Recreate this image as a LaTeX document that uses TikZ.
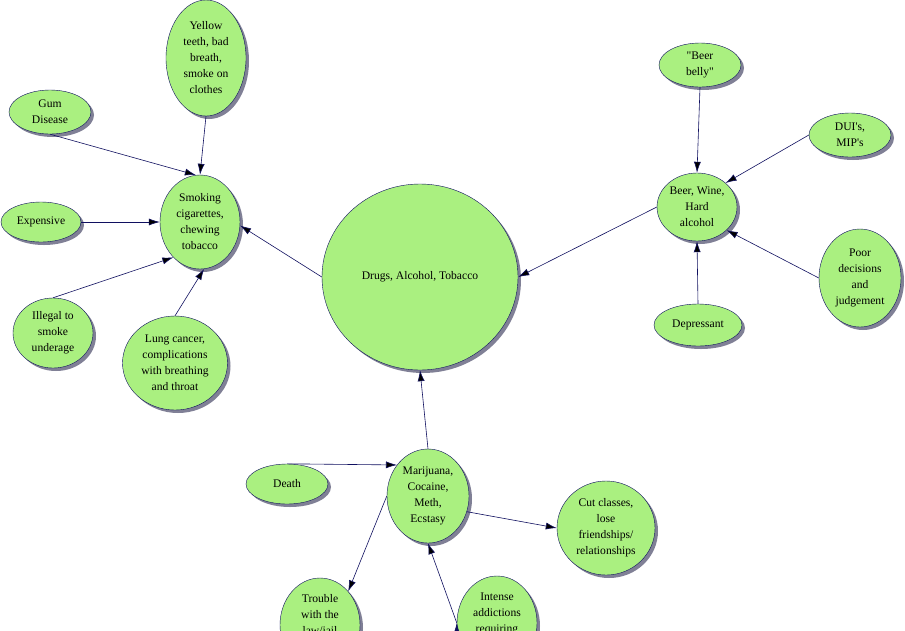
\documentclass[tikz,border=0pt]{standalone}
\usepackage{fontspec}
\setmainfont{Liberation Serif}
\usetikzlibrary{positioning}
\usetikzlibrary{shapes,shapes.geometric,arrows.meta,shadows}

\definecolor{leaf}{RGB}{170,240,128}
\definecolor{ink}{RGB}{16,16,96}
\definecolor{shade}{RGB}{128,128,150}

\tikzset{
  bubble/.style={ellipse, draw=ink, fill=leaf, inner sep=0pt, align=center,
    font=\fontsize{11.6}{16}\selectfont,
    drop shadow={shadow xshift=3pt, shadow yshift=-3pt, fill=shade, opacity=1}},
  link/.style={-{Latex[length=11pt,width=7pt]}, draw=ink, line width=0.6pt}
}

\begin{document}
\begin{tikzpicture}[node distance=2cm,on grid]
  \clip (0,0) rectangle (905pt,-630pt);
  \fill[white] (0,0) rectangle (905pt,-630pt);

  \node[bubble, minimum width=196pt, minimum height=186pt] (drugs) at (420pt,-277pt) {Drugs, Alcohol, Tobacco};

  % tobacco
  \node[bubble, minimum width=80pt, minimum height=94pt] (smoke) [above left=55pt and 220pt of drugs] {Smoking\\cigarettes,\\chewing\\tobacco};
  \node[bubble, minimum width=80pt, minimum height=116pt] (teeth) [above right=164pt and 6pt of smoke] {Yellow\\teeth, bad\\breath,\\smoke on\\clothes};
  \node[bubble, minimum width=82pt, minimum height=44pt] (gum) [above left=110pt and 150pt of smoke] {Gum\\Disease};
  \node[bubble, minimum width=80pt, minimum height=40pt] (cost) [left=159pt of smoke] {Expensive};
  \node[bubble, minimum width=80pt, minimum height=70pt] (illegal) [below left=111pt and 147pt of smoke] {Illegal to\\smoke\\underage};
  \node[bubble, minimum width=105pt, minimum height=94pt] (lung) [below left=141pt and 25pt of smoke] {Lung cancer,\\complications\\with breathing\\and throat};

  % alcohol
  \node[bubble, minimum width=80pt, minimum height=68pt] (beer) [above right=70pt and 277pt of drugs] {Beer, Wine,\\Hard\\alcohol};
  \node[bubble, minimum width=82pt, minimum height=44pt] (belly) [above right=142pt and 3pt of beer] {\textquotedbl Beer\\belly\textquotedbl};
  \node[bubble, minimum width=82pt, minimum height=44pt] (dui) [above right=72pt and 153pt of beer] {DUI\textquotesingle s,\\MIP\textquotesingle s};
  \node[bubble, minimum width=82pt, minimum height=98pt] (poor) [below right=71pt and 163pt of beer] {Poor\\decisions\\and\\judgement};
  \node[bubble, minimum width=88pt, minimum height=42pt] (down) [below right=118pt and 1pt of beer] {Depressant};

  % drugs
  \node[bubble, minimum width=82pt, minimum height=94pt] (mari) [below right=219pt and 8pt of drugs] {Marijuana,\\Cocaine,\\Meth,\\Ecstasy};
  \node[bubble, minimum width=82pt, minimum height=40pt] (death) [above left=12pt and 141pt of mari] {Death};
  \node[bubble, minimum width=98pt, minimum height=94pt] (cut) [below right=32pt and 178pt of mari] {Cut classes,\\lose\\friendships/\\relationships};
  \node[bubble, minimum width=80pt, minimum height=94pt] (law) [below left=129pt and 108pt of mari] {Trouble\\with the\\law/jail\\\strut};
  \node[bubble, minimum width=80pt, minimum height=94pt] (addict) [below right=127pt and 69pt of mari] {Intense\\addictions\\requiring\\\strut};

  \path[link]
    (teeth.south) edge (smoke.north)
    (gum.south) edge (smoke.95)
    (cost.east) edge (smoke.west)
    (illegal.north) edge (smoke.233)
    (lung.north) edge (smoke.-85)
    (drugs.west) edge (smoke.-5)
    (beer.west) edge (drugs.east)
    (belly.south) edge (beer.north)
    (dui.west) edge (beer.40)
    (poor.west) edge (beer.-38)
    (down.north) edge (beer.south)
    (mari.north) edge (drugs.south)
    (death.north) edge (mari.135)
    (mari.-22) edge (cut.west)
    (mari.west) edge (law.50)
    (addict.west) edge (mari.south)
    ;
\end{tikzpicture}
\end{document}
